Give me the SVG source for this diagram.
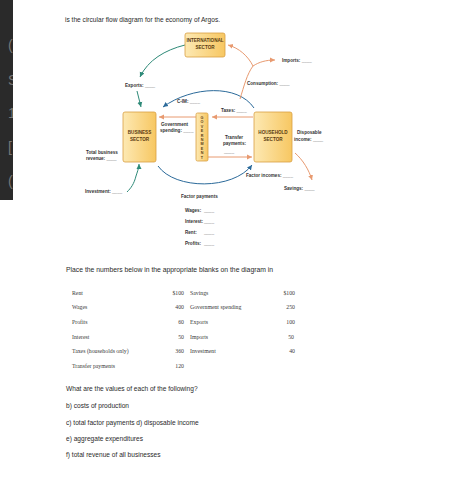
<svg xmlns="http://www.w3.org/2000/svg" width="456" height="497" viewBox="0 0 456 497">
<style>
.lbl{font-family:"Liberation Sans",Arial,sans-serif;font-weight:bold;font-size:4.6px;fill:#333}
.box{fill:url(#bg);stroke:#d8a043;stroke-width:0.8}
.bt{font-family:"Liberation Sans",Arial,sans-serif;font-weight:bold;font-size:4.6px;fill:#5a3a10;text-anchor:middle}
.gv{font-family:"Liberation Sans",Arial,sans-serif;font-weight:bold;font-size:3.7px;fill:#5a3a10;text-anchor:middle}
.txt{font-family:"Liberation Sans",Arial,sans-serif;font-size:6.6px;fill:#2a2a2a}
.tb{font-family:"Liberation Serif","Times New Roman",serif;font-size:5.8px;fill:#3a3a3a}
.or{fill:none;stroke:#e89a70;stroke-width:1}
.tl{fill:none;stroke:#2e8a78;stroke-width:1}
.bl{fill:none;stroke:#2b6a9a;stroke-width:1}
.side{font-family:"Liberation Sans",Arial,sans-serif;font-size:14px;fill:#777}
</style>
<defs>
<linearGradient id="bg" x1="0" y1="0" x2="1" y2="0">
<stop offset="0" stop-color="#fde9b3"/>
<stop offset="1" stop-color="#f7c762"/>
</linearGradient>
<marker id="ao" markerWidth="6" markerHeight="6" refX="5" refY="3" orient="auto" markerUnits="userSpaceOnUse"><path d="M0,0.5 L5,3 L0,5.5 z" fill="#e89a70"/></marker>
<marker id="at" markerWidth="6" markerHeight="6" refX="5" refY="3" orient="auto" markerUnits="userSpaceOnUse"><path d="M0,0.5 L5,3 L0,5.5 z" fill="#2e8a78"/></marker>
<marker id="ab" markerWidth="6" markerHeight="6" refX="5" refY="3" orient="auto" markerUnits="userSpaceOnUse"><path d="M0,0.5 L5,3 L0,5.5 z" fill="#2b6a9a"/></marker>
<clipPath id="sc"><rect x="0" y="0" width="13" height="200"/></clipPath>
</defs>
<rect width="456" height="497" fill="#fff"/>
<g id="sidebar">
<rect x="0" y="0" width="13" height="200" fill="#2a2a2a"/>
<g clip-path="url(#sc)">
<text class="side" x="8" y="50">(</text>
<text class="side" x="8" y="85">S</text>
<text class="side" x="8" y="118">1</text>
<text class="side" x="8" y="152">[</text>
<text class="side" x="8" y="186">(</text>
</g>
</g>
<text class="txt" x="65" y="22">is the circular flow diagram for the economy of Argos.</text>

<g id="connectors">
<path class="tl" d="M185,45 C165,50 148,60 140,77" marker-end="url(#at)"/>
<path class="tl" d="M137,91 L141,107" marker-end="url(#at)"/>
<path class="tl" d="M127,192 C131,188 134,184 136,176 C138,170 139,167 139,164" marker-end="url(#at)"/>
<path class="bl" d="M254,108 C238,84 192,86 163,107" marker-end="url(#ab)"/>
<path class="or" d="M240,99 C244,86 247,74 253,66"/>
<path class="or" d="M253,66 C248,56 239,48 228,45" marker-end="url(#ao)"/>
<path class="or" d="M253,66 C259,62 266,60 275,60" marker-end="url(#ao)"/>
<path class="or" d="M253,117 L212,117" marker-end="url(#ao)"/>
<path class="or" d="M196,117 L159,117" marker-end="url(#ao)"/>
<path class="or" d="M208,157 L252,157" marker-end="url(#ao)"/>
<path class="bl" d="M158,166 C175,190 233,190 252,165" marker-end="url(#ab)"/>
<path class="or" d="M295,153 C303,160 309,170 312,180" marker-end="url(#ao)"/>
</g>

<g id="international">
<rect class="box" x="185" y="33" width="40" height="24" rx="2"/>
<text class="bt" x="205" y="42">INTERNATIONAL</text>
<text class="bt" x="205" y="48.5">SECTOR</text>
</g>
<g id="business">
<rect class="box" x="123" y="112" width="33" height="50" rx="2"/>
<text class="bt" x="139.5" y="134">BUSINESS</text>
<text class="bt" x="139.5" y="140.5">SECTOR</text>
</g>
<g id="government">
<rect class="box" x="196" y="113" width="12" height="48" rx="1.5"/>
<text class="gv" x="202" y="119">G</text>
<text class="gv" x="202" y="123.4">O</text>
<text class="gv" x="202" y="127.8">V</text>
<text class="gv" x="202" y="132.2">E</text>
<text class="gv" x="202" y="136.6">R</text>
<text class="gv" x="202" y="141">N</text>
<text class="gv" x="202" y="145.4">M</text>
<text class="gv" x="202" y="149.8">E</text>
<text class="gv" x="202" y="154.2">N</text>
<text class="gv" x="202" y="158.6">T</text>
</g>
<g id="household">
<rect class="box" x="254" y="112" width="38" height="50" rx="2"/>
<text class="bt" x="273" y="134">HOUSEHOLD</text>
<text class="bt" x="273" y="140.5">SECTOR</text>
</g>

<g id="labels">
<text class="lbl" x="282" y="62">Imports: ____</text>
<text class="lbl" x="247" y="85">Consumption: ____</text>
<text class="lbl" x="125" y="87">Exports: ____</text>
<text class="lbl" x="177" y="103">C-IM: ____</text>
<text class="lbl" x="221" y="112">Taxes: ____</text>
<text class="lbl" x="161" y="126">Government</text>
<text class="lbl" x="160" y="132">spending: ____</text>
<text class="lbl" x="225" y="139">Transfer</text>
<text class="lbl" x="223" y="145">payments:</text>
<text class="lbl" x="224" y="153">____</text>
<text class="lbl" x="297" y="134">Disposable</text>
<text class="lbl" x="294" y="141">income: ____</text>
<text class="lbl" x="86" y="154">Total business</text>
<text class="lbl" x="86" y="160">revenue: ____</text>
<text class="lbl" x="246" y="177">Factor incomes: ____</text>
<text class="lbl" x="284" y="190">Savings: ____</text>
<text class="lbl" x="85" y="193">Investment: ____</text>
<text class="lbl" x="181" y="198">Factor payments</text>
<text class="lbl" x="185" y="212">Wages:</text><text class="lbl" x="204" y="212">____</text>
<text class="lbl" x="185" y="223">Interest:</text><text class="lbl" x="204" y="223">____</text>
<text class="lbl" x="185" y="234">Rent:</text><text class="lbl" x="204" y="234">____</text>
<text class="lbl" x="185" y="245">Profits:</text><text class="lbl" x="204" y="245">____</text>
</g>

<text class="txt" x="66" y="272" style="font-size:6.8px">Place the numbers below in the appropriate blanks on the diagram in</text>

<g id="table">
<text class="tb" x="72" y="295">Rent</text><text class="tb" x="184" y="295" text-anchor="end">$100</text>
<text class="tb" x="190" y="295">Savings</text><text class="tb" x="295" y="295" text-anchor="end">$100</text>
<text class="tb" x="72" y="309">Wages</text><text class="tb" x="184" y="309" text-anchor="end">400</text>
<text class="tb" x="190" y="309">Government spending</text><text class="tb" x="295" y="309" text-anchor="end">250</text>
<text class="tb" x="72" y="324">Profits</text><text class="tb" x="184" y="324" text-anchor="end">60</text>
<text class="tb" x="190" y="324">Exports</text><text class="tb" x="295" y="324" text-anchor="end">100</text>
<text class="tb" x="72" y="339">Interest</text><text class="tb" x="184" y="339" text-anchor="end">50</text>
<text class="tb" x="190" y="339">Imports</text><text class="tb" x="294" y="339" text-anchor="end">50</text>
<text class="tb" x="72" y="353">Taxes (households only)</text><text class="tb" x="184" y="353" text-anchor="end">360</text>
<text class="tb" x="190" y="353">Investment</text><text class="tb" x="295" y="353" text-anchor="end">40</text>
<text class="tb" x="72" y="368">Transfer payments</text><text class="tb" x="184" y="368" text-anchor="end">120</text>
</g>

<g id="questions">
<text class="txt" x="66" y="391">What are the values of each of the following?</text>
<text class="txt" x="66" y="408">b) costs of production</text>
<text class="txt" x="66" y="425">c) total factor payments d) disposable income</text>
<text class="txt" x="66" y="441">e) aggregate expenditures</text>
<text class="txt" x="66" y="457">f) total revenue of all businesses</text>
</g>
</svg>
